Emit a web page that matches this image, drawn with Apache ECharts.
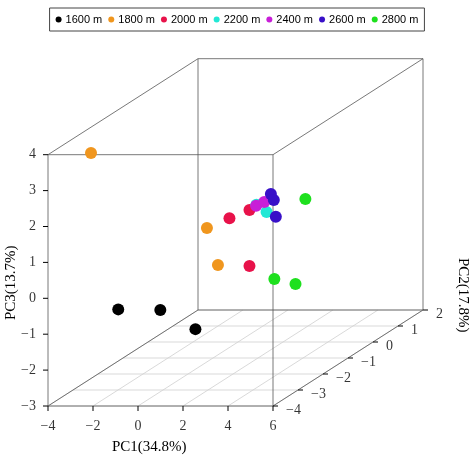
<!DOCTYPE html>
<html>
<head>
<meta charset="utf-8">
<script src="https://cdn.jsdelivr.net/npm/echarts@6/dist/echarts.min.js"></script>
<style>html,body{margin:0;padding:0;background:#fff}#chart{width:474px;height:462px}</style>
</head>
<body>
<div id="chart"></div>
<script>
// group names and colours
var groups = ['1600 m', '1800 m', '2000 m', '2200 m', '2400 m', '2600 m', '2800 m'];
var colors = ['#000000', '#F0961E', '#E8124A', '#22E8D5', '#C81ED8', '#3810C8', '#1EE01E'];
// points per group: [PC1, PC2, PC3]
var pts1600 = [[-3.1, -2, -1.2], [-1.23, -2, -1.22], [0.33, -2, -1.75]];
var pts1800 = [[-3.2, -3, 3.6], [-0.27, -1, 0.62], [0.22, -1, -0.41]];
var pts2000 = [[-0.38, 0, 0.45], [0.51, 0, 0.68], [0.51, 0, -0.88]];
var pts2200 = [[0.82, 0, 0.82], [1.27, 0, 0.62]];
var pts2400 = [[0.25, 0.5, 0.57], [0.61, 0.5, 0.68]];
var pts2600 = [[0.35, 1, 0.68], [0.48, 1, 0.51], [0.57, 1, 0.04]];
var pts2800 = [[2.44, 0.5, 0.76], [1.06, 0.5, -1.47], [2.0, 0.5, -1.61]];
var allPts = [pts1600, pts1800, pts2000, pts2200, pts2400, pts2600, pts2800];
// axis ticks
var xTicks = [-4, -2, 0, 2, 4, 6];
var yTicks = [-4, -3, -2, -1, 0, 1, 2];
var zTicks = [-3, -2, -1, 0, 1, 2, 3, 4];

// oblique projection (scatterplot3d style)
function P(x, y, z) {
  return [48 + (x + 4) * 22.5 + (y + 4) * 25, 406 - (z + 3) * 35.9 - (y + 4) * 16];
}
function minus(v) { return String(v).replace('-', '\u2212'); }

var series = [];
function seg(a, b, color, w) {
  series.push({type: 'line', data: [a, b], symbol: 'none', silent: true,
    lineStyle: {color: color, width: w}, z: 1});
}
// floor grid
xTicks.forEach(function (x) { seg(P(x, -4, -3), P(x, 2, -3), '#cfcfcf', 0.8); });
yTicks.forEach(function (y) { seg(P(-4, y, -3), P(6, y, -3), '#cfcfcf', 0.8); });
// box edges
var X = [-4, 6], Y = [-4, 2], Z = [-3, 4];
X.forEach(function (x) { Y.forEach(function (y) { seg(P(x, y, -3), P(x, y, 4), '#555', 0.8); }); });
X.forEach(function (x) { Z.forEach(function (z) { seg(P(x, -4, z), P(x, 2, z), '#555', 0.8); }); });
Y.forEach(function (y) { Z.forEach(function (z) { seg(P(-4, y, z), P(6, y, z), '#555', 0.8); }); });
// ticks
xTicks.forEach(function (x) { var p = P(x, -4, -3); seg(p, [p[0], p[1] + 5], '#000', 1); });
zTicks.forEach(function (z) { var p = P(-4, -4, z); seg(p, [p[0] - 5, p[1]], '#000', 1); });
yTicks.forEach(function (y) { var p = P(6, y, -3); seg(p, [p[0] + 5, p[1]], '#000', 1); });

var lab = {fontFamily: 'Liberation Serif', fontSize: 14, color: '#000'};
function labels(data, pos, off) {
  series.push({type: 'scatter', data: data, symbolSize: 0, silent: true,
    label: Object.assign({show: true, position: pos, offset: off, formatter: function (p) { return p.data[2]; }}, lab)});
}
labels(xTicks.map(function (x) { var p = P(x, -4, -3); return [p[0], p[1], minus(x)]; }), 'bottom', [0, 8]);
labels(zTicks.map(function (z) { var p = P(-4, -4, z); return [p[0], p[1], minus(z)]; }), 'left', [-7, 0]);
labels(yTicks.map(function (y) { var p = P(6, y, -3); return [p[0], p[1], minus(y)]; }), 'right', [8, 4]);

groups.forEach(function (g, i) {
  series.push({type: 'scatter', name: g, symbolSize: 12, z: 5,
    itemStyle: {color: colors[i], opacity: 1},
    data: allPts[i].map(function (d) { return P(d[0], d[1], d[2]); })});
});

var chart = echarts.init(document.getElementById('chart'));
chart.setOption({
  animation: false,
  grid: {left: 0, right: 0, top: 0, bottom: 0},
  xAxis: {type: 'value', min: 0, max: 474, show: false},
  yAxis: {type: 'value', min: 0, max: 462, inverse: true, show: false},
  legend: {data: groups, top: 8, left: 'center', borderColor: '#444', borderWidth: 1,
    padding: [6, 6], itemGap: 6, itemWidth: 6, itemHeight: 6, icon: 'circle',
    borderRadius: 0, textStyle: {fontFamily: 'Liberation Sans', fontSize: 11, color: '#000', padding: [0, 0, 0, -1]}},
  graphic: [
    {type: 'text', left: 112, top: 440, style: {text: 'PC1(34.8%)', font: '15px "Liberation Serif"', fill: '#000'}},
    {type: 'text', x: 4, y: 320, rotation: Math.PI / 2, style: {text: 'PC3(13.7%)', font: '15px "Liberation Serif"', fill: '#000'}},
    {type: 'text', x: 470, y: 258, rotation: -Math.PI / 2, style: {text: 'PC2(17.8%)', font: '15px "Liberation Serif"', fill: '#000'}}
  ],
  series: series
});
</script>
</body>
</html>
